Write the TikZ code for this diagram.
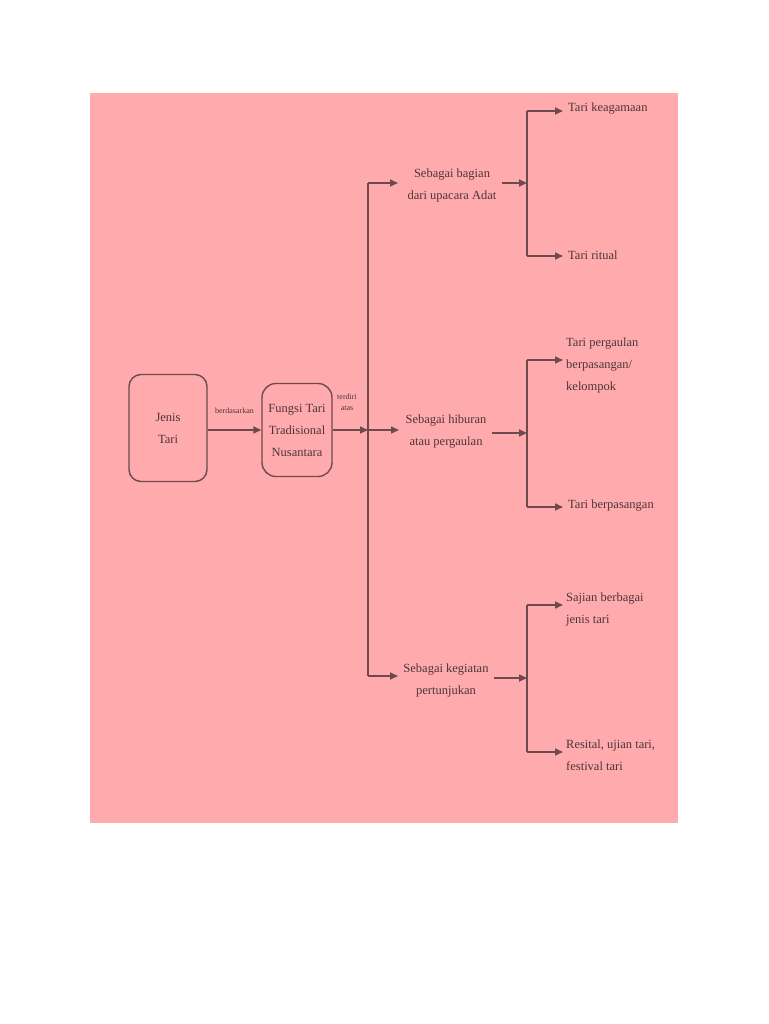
\documentclass[tikz,border=0pt]{standalone}
\usepackage{fontspec}
\setmainfont{Liberation Serif}
\usetikzlibrary{arrows.meta}
\definecolor{bg}{HTML}{FFABAD}
\definecolor{ln}{HTML}{6E4A4E}
\begin{document}
\begin{tikzpicture}[x=1pt,y=-1pt,
  conn/.style={draw=ln,line width=1.6pt},
  arr/.style={conn,-{Triangle[length=8pt,width=7pt]}},
  txt/.style={font=\fontsize{12.5}{22}\selectfont,text=ln!70!black,align=center,inner sep=0pt},
  leaf/.style={txt,align=left,anchor=west},
  small/.style={font=\fontsize{8}{11}\selectfont,text=ln!70!black,align=center,inner sep=0pt},
  box/.style={draw=ln,line width=1.4pt,rounded corners=12pt}]
\useasboundingbox (0,0) rectangle (768,1024);
\fill[bg] (90,93) rectangle (678,823);
\node[box,minimum width=78pt,minimum height=107pt,txt] (jenis) at (168,428) {Jenis\\Tari};
\node[box,minimum width=70pt,minimum height=93pt,txt,rounded corners=14pt] (fungsi) at (297,430) {Fungsi Tari\\Tradisional\\Nusantara};
\draw[arr] (jenis.east |- 0,430) -- (fungsi.west |- 0,430) node[midway,above=16pt,small]{berdasarkan};
\coordinate (hub) at (368,430);
\coordinate (top) at (368,183);
\coordinate (bot) at (368,676);
\draw[arr] (fungsi.east |- hub) -- (hub);
\node[small] (terdiri) at (347,402) {terdiri\\atas};
\draw[conn] (top) -- (bot);
\node[txt] (a) at (452,185) {Sebagai bagian\\dari upacara Adat};
\node[txt] (b) at (446,432) {Sebagai hiburan\\atau pergaulan};
\node[txt] (c) at (446,680) {Sebagai kegiatan\\pertunjukan};
\draw[arr] (top) -- (398,183);
\draw[arr] (hub) -- (399,430);
\draw[arr] (bot) -- (398,676);
\foreach \n/\y/\t/\b in {a/183/111/256, b/433/360/507, c/678/605/752}{
  \coordinate (\n j) at (527,\y);
  \draw[arr] (\n.east |- \n j) ++(5,0) -- (\n j);
  \draw[conn] (527,\t) -- (527,\b);
  \draw[arr] (527,\t) -- (563,\t);
  \draw[arr] (527,\b) -- (563,\b);
}
\node[leaf] (l1) at (568,109) {Tari keagamaan};
\node[leaf] (l2) at (568,255) {Tari ritual};
\node[leaf,anchor=north west] (l3) at (566,338) {Tari pergaulan\\berpasangan/\\kelompok};
\node[leaf] (l4) at (568,506) {Tari berpasangan};
\node[leaf,anchor=north west] (l5) at (566,593) {Sajian berbagai\\jenis tari};
\node[leaf,anchor=north west] (l6) at (566,740) {Resital, ujian tari,\\festival tari};
\end{tikzpicture}
\end{document}
